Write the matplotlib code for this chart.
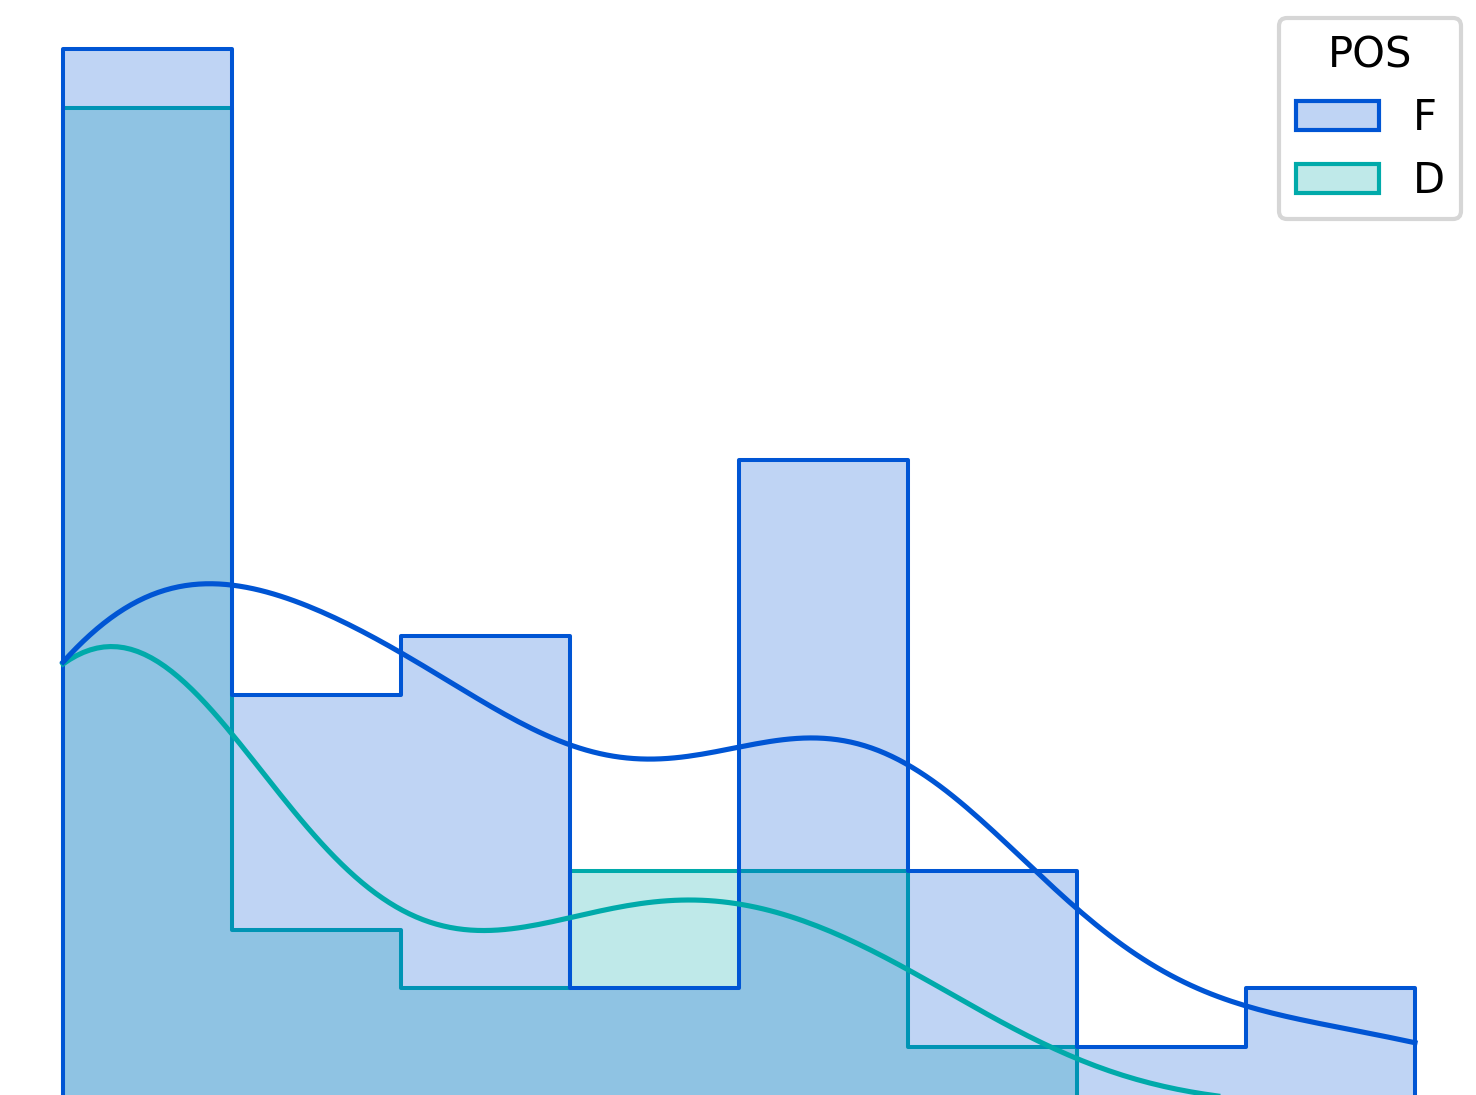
import matplotlib.pyplot as plt
import pandas as pd
import seaborn as sns

pos_order = ["F", "D"]
f_values = [
    0.00, 0.01, 0.01, 0.01, 0.01, 0.01, 0.01, 0.01, 0.01, 0.05,
    0.20, 0.25, 0.40, 0.66, 0.67, 0.89, 0.94, 0.97, 1.14, 1.39,
    1.49, 1.64, 1.75, 1.86, 1.95, 2.07, 2.10, 2.29, 2.34, 2.50,
    2.56, 2.64, 2.82, 3.03, 3.86, 4.01, 4.28, 4.34, 4.44, 4.53,
    4.58, 4.67, 4.76, 4.77, 4.84, 4.91, 5.04, 5.19, 5.44, 5.80,
    6.99, 7.52, 8.00,
]
d_values = [
    0.01, 0.01, 0.01, 0.01, 0.01, 0.01, 0.01, 0.01, 0.03, 0.03,
    0.03, 0.06, 0.18, 0.44, 0.57, 0.76, 0.99, 1.10, 1.17, 1.48,
    2.38, 2.99, 3.30, 3.38, 3.43, 3.61, 4.11, 4.25, 4.76, 4.82,
    5.15,
]
colors = {"F": "#0055D4", "D": "#00AAAA"}

df = pd.DataFrame({
    "value": f_values + d_values,
    "POS": ["F"] * len(f_values) + ["D"] * len(d_values),
})

fig = plt.figure(figsize=(14.76, 10.95), dpi=100)
ax = fig.add_axes([0, 0, 1, 1])

sns.histplot(
    data=df,
    x="value",
    hue="POS",
    hue_order=pos_order,
    palette=colors,
    element="step",
    kde=True,
    bins=8,
    ax=ax,
    linewidth=2.9,
    line_kws={"linewidth": 3.7},
)

ax.set_xlim(-0.3728, 8.361)
ax.set_ylim(0.182, 18.84)
ax.axis("off")

sns.move_legend(
    ax, "upper right",
    bbox_to_anchor=(1.0041, 1.0027),
    fontsize=30, title_fontsize=30,
)
leg = ax.get_legend()
leg.get_frame().set_linewidth(3.0)
for h in leg.legend_handles:
    h.set_linewidth(3.0)

fig.savefig("out.png")
